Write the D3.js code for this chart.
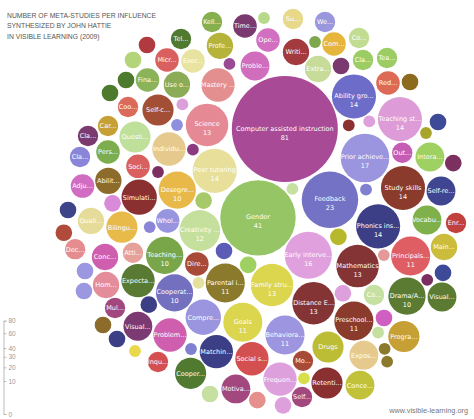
<!DOCTYPE html>
<html>
<head>
<meta charset="utf-8">
<script src="https://cdn.jsdelivr.net/npm/d3@7"></script>
<style>
  body { margin: 0; background: #fff; }
  svg { display: block; }
</style>
</head>
<body>
<svg id="bubble_svg" width="474" height="419"></svg>
<script>
// influence labels as printed (cut short with "..."), "" where the bubble is too small for text
const influences = [
  "Computer assisted instruction", "Gender", "Feedback", "Prior achieve...", "Early interve...",
  "Ability gro...", "Teaching st...", "Study skills", "Phonics ins...", "Peer tutoring",
  "Science", "Mathematics", "Family stru...", "Distance E...", "Creativity ...",
  "Principals...", "Parental i...", "Goals", "Behaviora...", "Preschool...",
  "Desegre...", "Teaching...", "Cooperat...", "Drama/A...",
  "Simulati...", "Compre...", "Mastery ...", "Individu...", "Expecta...",
  "Problem...", "Matchin...", "Social s...", "Frequen...", "Cooper...",
  "Bilingu...", "Retenti...", "Drugs", "Progra...", "Questi...",
  "Intera...", "Self-re...", "Vocabu...", "Visual...", "Motiva...",
  "Visual...", "Expos...", "Conce...", "Proble...", "Self-c...",
  "Profe...", "Writi...", "Extra...", "Use o...", "Abilit...",
  "Quali...", "Conc...", "Hom...", "Main...",
  "Time...", "Ope...", "Com...", "Micr...", "Exer...", "Fina...",
  "Pers...", "Soci...", "Adju...", "Whol...", "Red...", "Dire...",
  "Kell...", "Tel...", "Su...", "We...", "Co...", "Cla...", "Tea...", "Coo...", "Car...", "Cla...",
  "Cla...", "Out...", "Enr...", "Dec...", "Atti...", "Mul...", "Inqu...", "Mo...", "Self...", "Co...",
  "", "", "", "", "", "", "", "", "", "", "", "", "", "",
  "", "", "", "", "", "", "", "", "", "", "", "",
  "", "", "", "", "", "", "", "", "", "", "", "",
  "", "", "", "", "", "", "", "", "", ""
];

// number of meta-studies behind each influence
const metaStudies = [
  81, 41, 23, 17, 16,
  14, 14, 14, 14, 14,
  13, 13, 13, 13, 12,
  11, 11, 11, 11, 11,
  10, 10, 10, 10,
  9, 9, 8, 8, 8,
  8, 8, 8, 8, 7,
  7, 7, 7, 7, 7,
  6, 6, 6, 6, 6,
  6, 6, 6, 6, 7,
  5, 5, 5, 5, 5,
  5, 5, 5, 5,
  4, 4, 4, 4, 4, 4,
  4, 4, 4, 4, 4, 4,
  3, 3, 3, 3, 3, 3, 3, 3, 3, 3,
  3, 3, 3, 3, 3, 3, 3, 3, 3, 3,
  2, 2, 2, 2, 2, 2, 2, 2, 2, 2, 2, 2, 2, 2,
  2, 2, 2, 2, 2, 2, 2, 2, 2, 2, 2, 2,
  1, 1, 1, 1, 1, 1, 1, 1, 1, 1, 1, 1,
  1, 1, 1, 1, 1, 1, 1, 1, 1, 1
];

// bubble fills
const fills = [
  "#a84a95", "#96c565", "#7472c4", "#9a95de", "#e0a0de",
  "#6d6cc8", "#dd9cd8", "#8a3b2b", "#3c3f85", "#e8df9a",
  "#e58a95", "#843434", "#dcd54e", "#843434", "#c4e09c",
  "#df5e63", "#8c7a2c", "#dcd54e", "#9d95e0", "#8a3b2b",
  "#e8b948", "#7aa64a", "#7470c0", "#5b7a32",
  "#8a3030", "#9a95de", "#e48f8f", "#e6c98d", "#587a32",
  "#cf5fae", "#3c3f85", "#d45050", "#dea0dc", "#4f7a30",
  "#e8ba4a", "#8a3030", "#bdbd35", "#c7a035", "#bfe09a",
  "#9fd062", "#3f4590", "#7fb049", "#7b3a72", "#a3487f",
  "#5b7a32", "#e6c98d", "#c2c23a", "#d06dbd", "#a24f35",
  "#b5b33a", "#a33a3e", "#c8dc9a", "#8cab57", "#8c6b2b",
  "#e6dc9a", "#cf5fae", "#e58c9a", "#cbbc3c",
  "#7b3a6f", "#d36fc0", "#e6b63c", "#d9605f", "#e8e3a0", "#8ab35a",
  "#7cae4f", "#d9605f", "#d06cc2", "#9895e0", "#dd6a55", "#a84a38",
  "#86b04f", "#4f7a30", "#e8d88a", "#9a97dd", "#c2dc92", "#9ccc64", "#9ccc64", "#dc6a5a", "#c7a035", "#7b3a6f",
  "#8a85d8", "#c55db5", "#c0413e", "#e58c8f", "#e6a09a", "#a3487f", "#d45050", "#a84a38", "#a3487f", "#c5e0a0",
  "#b03a40", "#b4d47a", "#4d7a2c", "#4d7a2c", "#7b3a6f", "#8c6b1e", "#3c4a98", "#7b3060", "#a8c96a", "#d98ad8", "#3d4588", "#b04a3a", "#5a5cb5", "#b8b82d",
  "#3c4a98", "#9b97e0", "#9b97e0", "#3c3f85", "#8c6b2b", "#3c3f85", "#9fd062", "#c5e0a0", "#e5908c", "#dea0dc", "#dea0dc", "#cf5fc0",
  "#b8d98a", "#7fa84e", "#9a4a95", "#dba0dc", "#8e8fdf", "#8c3a80", "#7b2e62", "#c5e0a0", "#8b85d8", "#7f80d0", "#e59a9a", "#7b2e62",
  "#8a3030", "#dea0dc", "#a8a52a", "#e8d84a", "#e6e0a0", "#7f80d0", "#d8dd4a", "#c5e0a0", "#8c7a2c", "#8c7a2c"
];

// where each bubble sits in the packed layout (picture units)
const spots = [
  [285, 129], [258, 218], [330, 200], [365, 158], [308, 255],
  [353, 97], [400, 120], [403, 188], [378, 227], [214, 172],
  [207, 125], [358, 266], [272, 285], [314, 303], [200, 230],
  [410, 256], [225, 283], [243, 323], [285, 335], [354, 321],
  [178, 190], [164, 256], [175, 293], [407, 296],
  [139, 197], [203, 317], [218, 85], [169, 149], [139, 280],
  [170, 335], [216, 352], [252, 358], [280, 379], [191, 373],
  [122, 227], [327, 383], [328, 347], [403, 337], [135, 137],
  [430, 157], [441, 191], [427, 220], [138, 326], [236, 389],
  [442, 297], [365, 355], [360, 385], [255, 66], [158, 110],
  [220, 46], [296, 52], [318, 69], [177, 85], [108, 181],
  [91, 221], [105, 257], [106, 285], [444, 247],
  [245, 26], [268, 40], [334, 44], [167, 60], [193, 61], [147, 80],
  [108, 152], [138, 167], [83, 186], [168, 221], [388, 83], [197, 263],
  [212, 22], [181, 39], [293, 19], [325, 22], [359, 38], [363, 60], [387, 58], [128, 107], [108, 126], [88, 136],
  [80, 157], [402, 149], [456, 223], [75, 249], [133, 253], [115, 308], [158, 362], [303, 361], [302, 397], [374, 295],
  [147, 45], [133, 60], [127, 80], [110, 93], [341, 66], [410, 82], [438, 122], [453, 163], [204, 199], [113, 203], [68, 210], [64, 233], [225, 250], [338, 235],
  [443, 273], [85, 271], [84, 291], [149, 304], [103, 325], [117, 339], [248, 265], [210, 394], [257, 400], [283, 405], [342, 291], [384, 318],
  [264, 18], [315, 42], [229, 63], [182, 103], [177, 125], [193, 149], [158, 172], [292, 189], [150, 227], [366, 189], [383, 254], [427, 280],
  [349, 124], [369, 121], [426, 133], [135, 351], [198, 283], [191, 349], [302, 378], [377, 332], [384, 348], [387, 361]
];

const titleLines = ["NUMBER OF META-STUDIES PER INFLUENCE", "SYNTHESIZED BY JOHN HATTIE", "IN VISIBLE LEARNING (2009)"];
const legendTicks = [0, 10, 20, 30, 40, 60, 80];
const sourceNote = "www.visible-learning.org";

var bubbleSvg = d3.select("#bubble_svg");
var chart_width = +bubbleSvg.attr("width");
var chart_height = +bubbleSvg.attr("height");

drawBubbleChart();

function drawBubbleChart() {

    var xScale = d3.scaleLinear().domain([0, 474]).range([0, chart_width]);
    var yScale = d3.scaleLinear().domain([0, 419]).range([0, chart_height]);
    // radius grows with the square root of the count, 81 studies -> 53px
    var rScale = d3.scaleSqrt().domain([0, 81]).range([0, 53]);

    var nodes = metaStudies.map(function(v, i) {
        return {
            name: influences[i],
            value: v,
            fill: fills[i],
            tx: xScale(spots[i][0]),
            ty: yScale(spots[i][1]),
            x: xScale(spots[i][0]),
            y: yScale(spots[i][1]),
            r: rScale(v)
        };
    });

    // small nudge so hand-read centres do not overlap
    var sim = d3.forceSimulation(nodes)
        .force("x", d3.forceX(d => d.tx).strength(0.4))
        .force("y", d3.forceY(d => d.ty).strength(0.4))
        .force("collide", d3.forceCollide(d => d.r + 0.7).strength(0.9).iterations(3))
        .stop();
    for (var i = 0; i < 120; i++) sim.tick();

    var bubbleG = bubbleSvg.append("g");

    var node = bubbleG.selectAll("g.node")
        .data(nodes)
        .enter()
        .append("g")
        .attr("class", "node")
        .attr("transform", d => `translate(${d.x},${d.y})`);

    node.append("circle")
        .attr("r", d => d.r)
        .style("fill", d => d.fill);

    node.filter(d => d.name !== "")
        .append("text")
        .attr("text-anchor", "middle")
        .attr("y", d => d.value >= 10 ? 1.5 : 2.4)
        .style("font-family", "'DejaVu Sans', sans-serif")
        .style("font-size", "6.5px")
        .style("fill", "#fff")
        .text(d => d.name);

    node.filter(d => d.value >= 10)
        .append("text")
        .attr("text-anchor", "middle")
        .attr("y", 10.5)
        .style("font-family", "'DejaVu Sans', sans-serif")
        .style("font-size", "6.5px")
        .style("fill", "#fff")
        .text(d => d.value);

    //Title
    bubbleSvg.append("g")
        .selectAll("text")
        .data(titleLines)
        .enter()
        .append("text")
        .attr("x", 7)
        .attr("y", (d, i) => 17.5 + i * 10.5)
        .style("font-family", "'Liberation Sans', Arial, sans-serif")
        .style("font-size", "6.8px")
        .style("fill", "#555")
        .text(d => d);

    //Size legend (sqrt axis)
    var legendScale = d3.scaleSqrt().domain([0, 80]).range([414, 320.7]);
    var legendAxis = bubbleSvg.append("g")
        .attr("transform", "translate(3.5,0)")
        .call(d3.axisRight(legendScale).tickValues(legendTicks).tickSize(3).tickSizeOuter(3));
    legendAxis.select(".domain").style("stroke", "#bbb");
    legendAxis.selectAll(".tick line").style("stroke", "#bbb");
    legendAxis.selectAll("text")
        .attr("x", 5)
        .style("font-family", "'Liberation Sans', Arial, sans-serif")
        .style("font-size", "6.5px")
        .style("fill", "#999");

    bubbleSvg.append("text")
        .attr("x", 468)
        .attr("y", 412.5)
        .attr("text-anchor", "end")
        .style("font-family", "'Liberation Sans', Arial, sans-serif")
        .style("font-size", "7.3px")
        .style("fill", "#777")
        .text(sourceNote);
}
</script>
</body>
</html>
